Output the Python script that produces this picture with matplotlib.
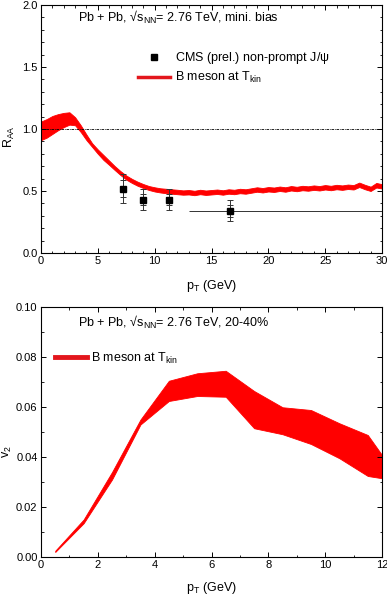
import matplotlib
matplotlib.use("Agg")
import matplotlib.pyplot as plt
from matplotlib.lines import Line2D
from matplotlib.ticker import MultipleLocator, FormatStrFormatter

plt.rcParams['font.family'] = ['Liberation Sans', 'DejaVu Sans']
plt.rcParams['mathtext.fontset'] = 'custom'
plt.rcParams['mathtext.rm'] = 'Liberation Sans'
plt.rcParams['mathtext.it'] = 'Liberation Sans:italic'
plt.rcParams['mathtext.default'] = 'regular'

# ---------------- data: top panel (R_AA) ----------------
raa_pt = [0, 0.5, 1, 1.5, 2, 2.5, 3, 3.5, 4, 4.5, 5, 5.5, 6, 6.5, 7, 7.5, 8, 8.5, 9, 9.5,
          10, 10.5, 11, 11.5, 12, 12.5, 13, 13.5, 14, 14.5, 15, 15.5, 16, 16.5, 17, 17.5,
          18, 18.5, 19, 19.5, 20, 20.5, 21, 21.5, 22, 22.5, 23, 23.5, 24, 24.5, 25, 25.5,
          26, 26.5, 27, 27.5, 28, 28.5, 29, 29.5, 30]
raa_upper = [1.06, 1.08, 1.105, 1.12, 1.13, 1.135, 1.095, 1.03, 0.955, 0.885, 0.835, 0.79,
             0.745, 0.70, 0.66, 0.625, 0.598, 0.575, 0.556, 0.54, 0.53, 0.522, 0.518, 0.514,
             0.51, 0.505, 0.508, 0.502, 0.51, 0.504, 0.508, 0.512, 0.506, 0.514, 0.51, 0.518,
             0.514, 0.522, 0.53, 0.524, 0.532, 0.528, 0.536, 0.53, 0.54, 0.534, 0.542, 0.538,
             0.545, 0.54, 0.548, 0.542, 0.55, 0.545, 0.552, 0.548, 0.568, 0.55, 0.535, 0.565,
             0.555]
raa_lower = [0.91, 0.93, 0.96, 0.99, 1.015, 1.035, 1.03, 0.975, 0.91, 0.855, 0.80, 0.75,
             0.71, 0.668, 0.628, 0.592, 0.565, 0.542, 0.524, 0.508, 0.496, 0.488, 0.482, 0.478,
             0.474, 0.47, 0.472, 0.466, 0.474, 0.468, 0.472, 0.476, 0.47, 0.478, 0.474, 0.482,
             0.478, 0.486, 0.494, 0.488, 0.496, 0.492, 0.5, 0.494, 0.504, 0.498, 0.506, 0.502,
             0.509, 0.504, 0.512, 0.506, 0.514, 0.509, 0.516, 0.512, 0.532, 0.514, 0.5, 0.528,
             0.52]

cms_pt = [7.2, 9.0, 11.3, 16.6]
cms_raa = [0.52, 0.43, 0.43, 0.34]
cms_stat = [0.07, 0.045, 0.045, 0.05]
cms_syst = [0.12, 0.085, 0.085, 0.085]
cms_pt_lo = [0, 0, 0, 3.6]
cms_pt_hi = [0, 0, 0, 13.4]

# ---------------- data: bottom panel (v2) ----------------
v2_pt = [0.5, 1.5, 2.5, 3.5, 4.5, 5.5, 6.5, 7.5, 8.5, 9.5, 10.5, 11.5, 12]
v2_upper = [0.0025, 0.0150, 0.0340, 0.0550, 0.0705, 0.0735, 0.0745, 0.0664, 0.0599,
            0.0588, 0.0535, 0.0488, 0.0408]
v2_lower = [0.0020, 0.0135, 0.0310, 0.0530, 0.0624, 0.0644, 0.0641, 0.0515, 0.0491,
            0.0452, 0.0395, 0.0324, 0.0315]

RED = '#ff0000'
LRED = '#e3161c'

fig = plt.figure(figsize=(3.87, 5.95), dpi=100)
ax1 = fig.add_axes([41/387, 1-253/595, 341/387, 248/595])
ax2 = fig.add_axes([41/387, 1-557/595, 341/387, 250/595])

def style(ax):
    ax.tick_params(which='both', direction='in', top=True, right=True, labelsize=8, pad=2.5)
    ax.tick_params(which='major', length=3.5, width=0.7)
    ax.tick_params(which='minor', length=1.8, width=0.6)
    for s in ax.spines.values():
        s.set_linewidth(0.8)

# ---- top panel ----
ax1.fill_between(raa_pt, raa_lower, raa_upper, color=RED, lw=0.6, edgecolor=RED)
ax1.axhline(1.0, color='black', lw=0.6, ls=(0, (3, 1, 1, 1)))
ax1.errorbar(cms_pt, cms_raa, yerr=cms_syst, fmt='none', ecolor='#333333', elinewidth=0.7,
             capsize=2, capthick=0.7)
ax1.errorbar(cms_pt, cms_raa, yerr=cms_stat, fmt='none', ecolor='#333333', elinewidth=0.7,
             capsize=2, capthick=0.7)
ax1.errorbar(cms_pt, cms_raa, xerr=[cms_pt_lo, cms_pt_hi], fmt='none', ecolor='#333333',
             elinewidth=0.7, capsize=0)
ax1.plot(cms_pt, cms_raa, 's', color='black', ms=3.8, zorder=5)
ax1.set_xlim(0, 30)
ax1.set_ylim(0, 2.0)
ax1.xaxis.set_major_locator(MultipleLocator(5))
ax1.xaxis.set_minor_locator(MultipleLocator(1))
ax1.yaxis.set_major_locator(MultipleLocator(0.5))
ax1.yaxis.set_minor_locator(MultipleLocator(0.1))
ax1.yaxis.set_major_formatter(FormatStrFormatter('%.1f'))
style(ax1)
ax1.text(0.108, 0.948, 'Pb + Pb, \u221as$_{NN}$= 2.76 TeV, mini. bias', transform=ax1.transAxes,
         fontsize=9, va='center', ha='left')
h1 = [Line2D([], [], marker='s', color='black', ls='none', ms=3.8),
      Line2D([], [], color=LRED, lw=2.5)]
ax1.legend(h1, [r'CMS (prel.) non-prompt J/$\psi$', r'B meson at T$_{kin}$'],
           loc='upper left', bbox_to_anchor=(0.284, 0.818), frameon=False, fontsize=9,
           handlelength=2.6, handletextpad=0.35, labelspacing=0.3, borderpad=0,
           borderaxespad=0)
ax1.set_xlabel(r'p$_T$ (GeV)', fontsize=9)
ax1.set_ylabel(r'R$_{AA}$', fontsize=9)
ax1.xaxis.set_label_coords(0.5, -0.10)
ax1.yaxis.set_label_coords(-0.07, 0.47)

# ---- bottom panel ----
ax2.fill_between(v2_pt, v2_lower, v2_upper, color=RED, lw=0.6, edgecolor=RED)
ax2.set_xlim(0, 12)
ax2.set_ylim(0, 0.10)
ax2.xaxis.set_major_locator(MultipleLocator(2))
ax2.xaxis.set_minor_locator(MultipleLocator(1))
ax2.yaxis.set_major_locator(MultipleLocator(0.02))
ax2.yaxis.set_minor_locator(MultipleLocator(0.01))
ax2.yaxis.set_major_formatter(FormatStrFormatter('%.2f'))
style(ax2)
ax2.text(0.108, 0.94, 'Pb + Pb, \u221as$_{NN}$= 2.76 TeV, 20-40%', transform=ax2.transAxes,
         fontsize=9, va='center', ha='left')
h2 = [Line2D([], [], color=LRED, lw=3.5)]
ax2.legend(h2, [r'B meson at T$_{kin}$'], loc='upper left', bbox_to_anchor=(0.041, 0.825),
           frameon=False, fontsize=9, handlelength=2.6, handletextpad=0.25, borderpad=0,
           borderaxespad=0)
ax2.set_xlabel(r'p$_T$ (GeV)', fontsize=9)
ax2.set_ylabel(r'v$_2$', fontsize=9)
ax2.xaxis.set_label_coords(0.5, -0.092)
ax2.yaxis.set_label_coords(-0.078, 0.42)

fig.savefig('out.png', dpi=100)
